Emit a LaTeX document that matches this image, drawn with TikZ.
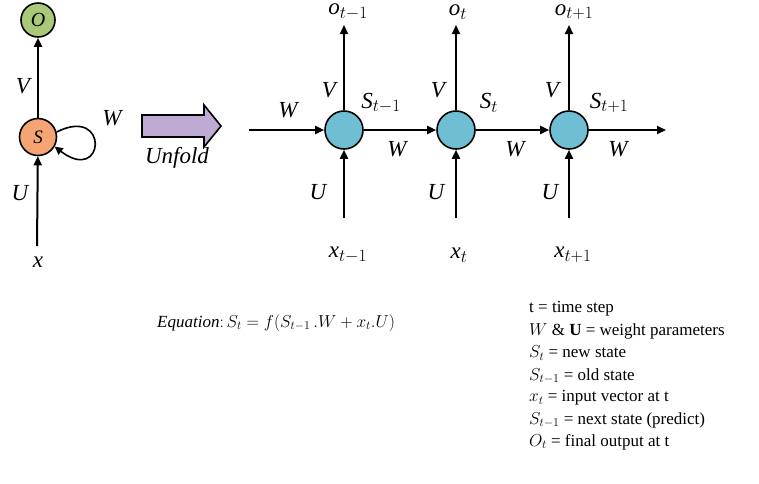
\documentclass[tikz,border=0pt]{standalone}
\usepackage{fontspec}
\setmainfont{Liberation Serif}
\usetikzlibrary{arrows.meta}
\begin{document}
\begin{tikzpicture}[x=1pt,y=-1pt,
 ar/.style={line width=2pt,-{Triangle[length=9pt,width=8pt]}},
 cell/.style={circle,draw,line width=1.6pt,minimum size=38pt,inner sep=0pt,fill={rgb,255:red,112;green,190;blue,212}},
 lab/.style={font=\fontsize{23}{23}\selectfont\itshape},
 lg/.style={anchor=west,font=\fontsize{17}{17}\selectfont,inner sep=0pt}]
\useasboundingbox (0,0) rectangle (759,483);
% folded
\node[circle,draw,line width=1.6pt,minimum size=34pt,inner sep=0pt,fill={rgb,255:red,169;green,201;blue,121}] (o) at (38,20) {\fontsize{20}{20}\selectfont\itshape O};
\node[circle,draw,line width=1.6pt,minimum size=37pt,inner sep=0pt,fill={rgb,255:red,245;green,165;blue,115}] (s) at (38,137) {\fontsize{19}{19}\selectfont\itshape S};
\node[lab] (x) at (38,262) {x};
\coordinate (xs) at (37,246);
\draw[ar] (xs) -- (s);
\draw[ar] (s) -- (o);
\draw[line width=1.6pt,-{Triangle[length=8pt,width=8pt]}] (s.15) .. controls (110,105) and (105,185) .. (s.-30);
\node[lab] (lv) at (23,86) {V};
\node[lab] (lu) at (20,193) {U};
\node[lab] (lw) at (112,118) {W};
\draw[line width=1.6pt,fill={rgb,255:red,190;green,170;blue,210}] (142,115) -- (204,115) -- (204,105) -- (221,126) -- (204,147) -- (204,137) -- (142,137) -- cycle;
\node[lab] (ut) at (177,158) {Unfold};
% unfolded
\node[cell] (c1) at (344,130) {};
\node[cell] (c2) at (456,130) {};
\node[cell] (c3) at (569,130) {};
\coordinate (w0) at (249,130);
\coordinate (w3) at (666,130);
\draw[ar] (w0) -- (c1);
\draw[ar] (c1) -- (c2);
\draw[ar] (c2) -- (c3);
\draw[ar] (c3) -- (w3);
\node[lab] (o1) at (348,12) {o$_{t-1}$};
\node[lab] (o2) at (458,12) {o$_{t}$};
\node[lab] (o3) at (574,12) {o$_{t+1}$};
\node[lab] (x1) at (348,255) {x$_{t-1}$};
\node[lab] (x2) at (459,255) {x$_{t}$};
\node[lab] (x3) at (573,255) {x$_{t+1}$};
\coordinate (b1) at (344,218);\coordinate (b2) at (456,218);\coordinate (b3) at (569,218);
\coordinate (t1) at (344,25);\coordinate (t2) at (456,25);\coordinate (t3) at (569,25);
\foreach \i/\c in {1/c1,2/c2,3/c3}{\draw[ar] (b\i) -- (\c); \draw[ar] (\c) -- (t\i);}
\node[lab] (w1) at (288,110) {W};
\node[lab] (w2) at (397,149) {W};
\node[lab] (w3l) at (515,149) {W};
\node[lab] (w4) at (618,149) {W};
\node[lab] (v1) at (329,90) {V};
\node[lab] (v2) at (438,90) {V};
\node[lab] (v3) at (552,90) {V};
\node[lab] (u1) at (318,192) {U};
\node[lab] (u2) at (436,192) {U};
\node[lab] (u3) at (550,192) {U};
\node[lab] (s1) at (381,103) {S$_{t-1}$};
\node[lab] (s2) at (489,103) {S$_{t}$};
\node[lab] (s3) at (609,103) {S$_{t+1}$};
% equation
\node[lg] (eq) at (157,323) {$\mathit{Equation}\colon S_t = f(S_{t-1}\,.W + x_t.U)$};
\node[lg] (l1) at (529,309) {t = time step};
\node[lg] (l2) at (529,331) {$W$ \& \textbf{U} = weight parameters};
\node[lg] (l3) at (529,353) {$S_t$ = new state};
\node[lg] (l4) at (529,376) {$S_{t-1}$ = old state};
\node[lg] (l5) at (529,398) {$x_t$ = input vector at t};
\node[lg] (l6) at (529,420) {$S_{t-1}$ = next state (predict)};
\node[lg] (l7) at (529,442) {$O_t$ = final output at t};
\end{tikzpicture}
\end{document}
